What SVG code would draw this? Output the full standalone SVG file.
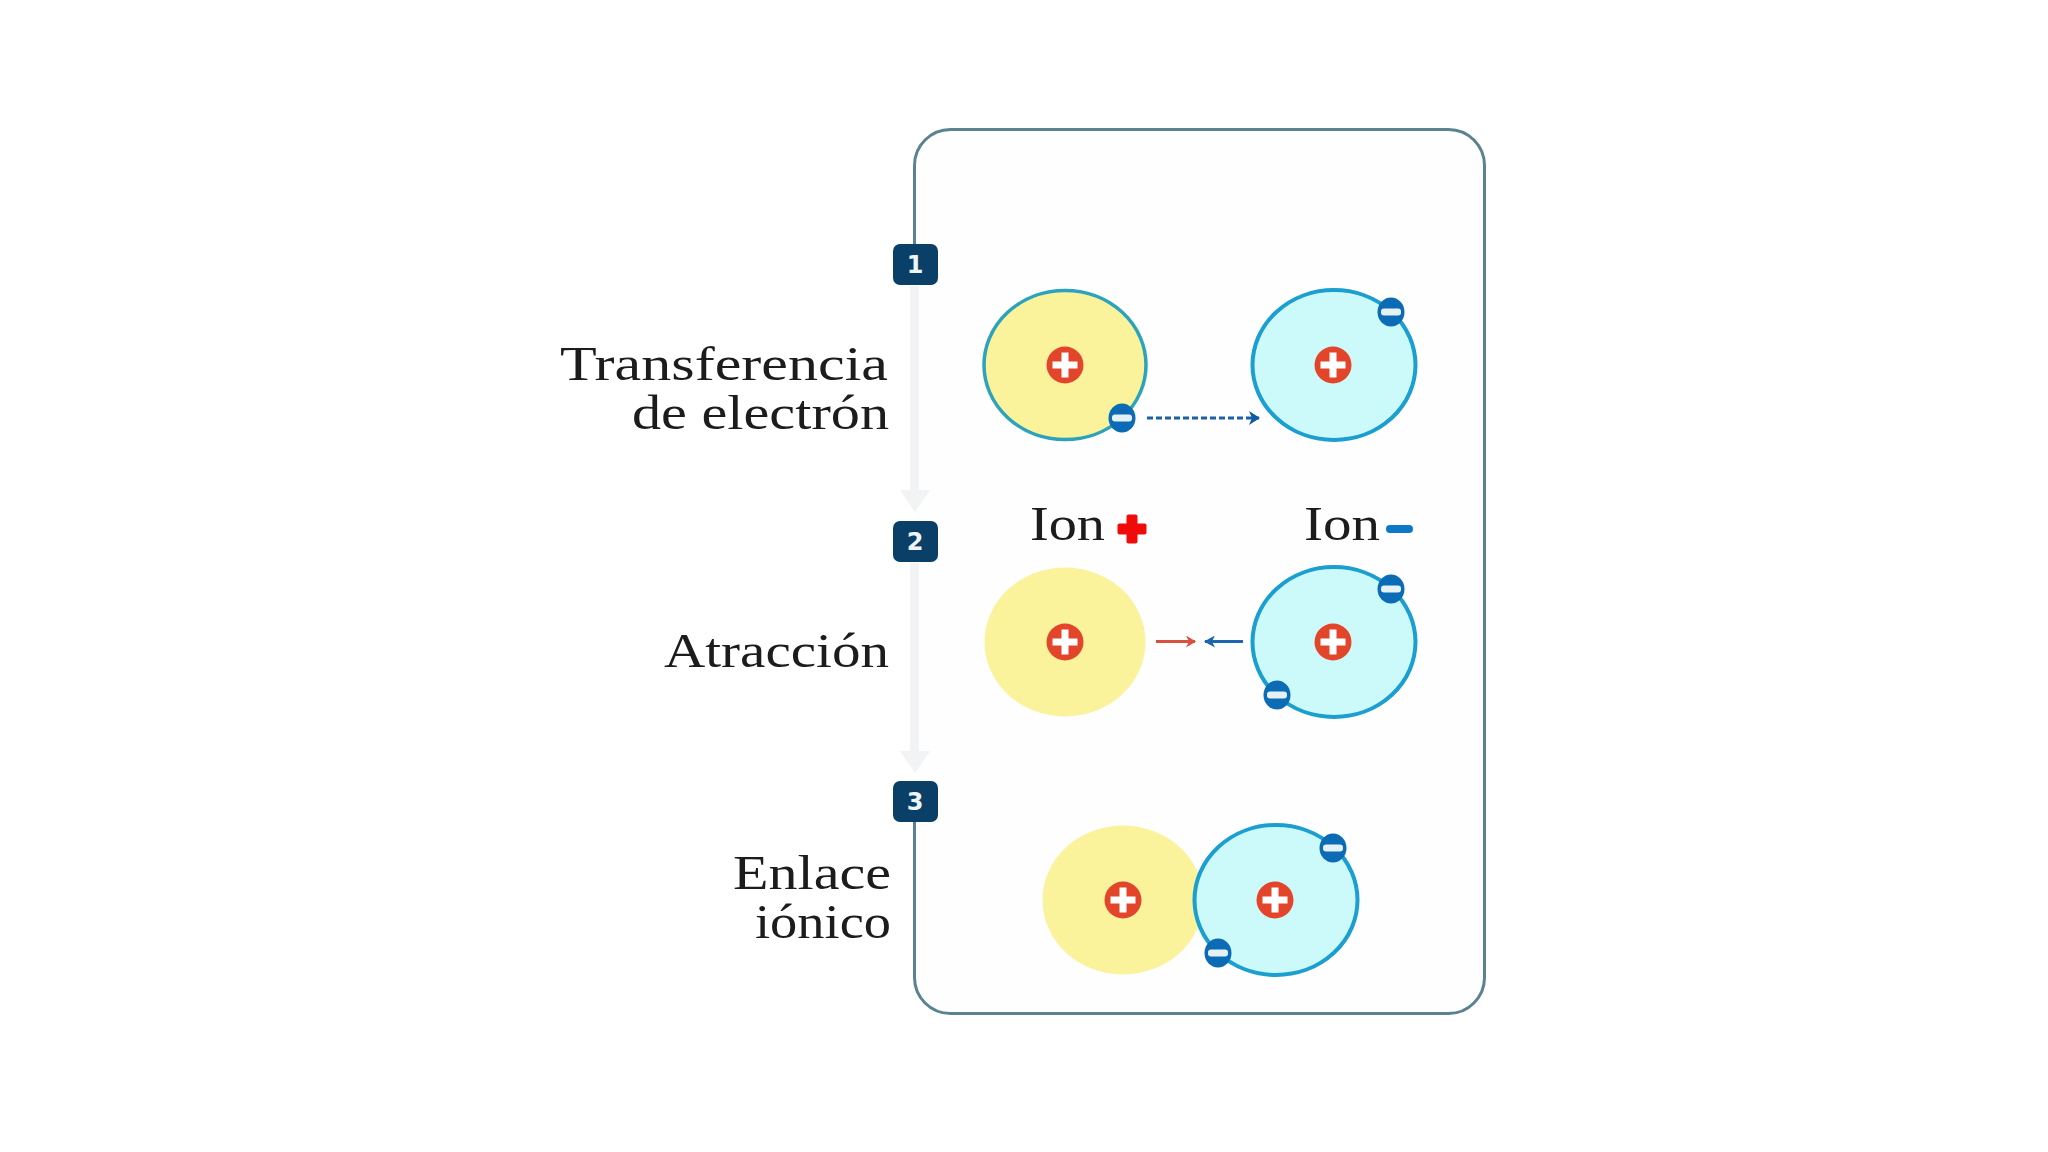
<svg xmlns="http://www.w3.org/2000/svg" width="2048" height="1152" viewBox="0 0 2048 1152">
<style>
.lbl{font-family:"Liberation Serif","Times New Roman",serif;font-size:49px;fill:#1c1c1c}
.num{font-family:"DejaVu Sans","Liberation Sans",sans-serif;font-size:24px;font-weight:700;fill:#eef5f8;text-anchor:middle}
.y{fill:#fbf29c}
.ys{stroke:#2ba3bd;stroke-width:3.5}
.b{fill:#ccfafb;stroke:#1a9fd0;stroke-width:4}
.bar{fill:#f2f3f4}
</style>
<defs>
<g id="plus"><circle r="18.5" fill="#e2452a"/><path d="M-3.5-12.5h7v9h9v7h-9v9h-7v-9h-9v-7h9z" fill="#fff"/></g>
<g id="minus"><ellipse rx="13.5" ry="14.5" fill="#0b6bb5"/><rect x="-10" y="-3.5" width="20" height="7" rx="3" fill="#e4f1f7"/></g>
<marker id="ab" markerUnits="userSpaceOnUse" markerWidth="12" markerHeight="12" refX="10" refY="6" orient="auto"><path d="M0 0L11 6L0 12L3 6z" fill="#1b66ae"/></marker>
<marker id="ar" markerUnits="userSpaceOnUse" markerWidth="12" markerHeight="12" refX="10" refY="6" orient="auto"><path d="M1 0L11 6L1 12L4 6z" fill="#d9503f"/></marker>
<marker id="ad" markerUnits="userSpaceOnUse" markerWidth="12" markerHeight="14" refX="10" refY="7" orient="auto"><path d="M0 0L11 7L0 14L3 7z" fill="#0e5aa5"/></marker>
</defs>
<rect width="2048" height="1152" fill="#fff"/>
<g id="frame"><rect x="914.5" y="129.5" width="570" height="884" rx="36" fill="#fefefe"/><path d="M914.500 250V165.500a36 36 0 0 1 36-36H1448.500a36 36 0 0 1 36 36V977.500a36 36 0 0 1-36 36H950.500a36 36 0 0 1-36-36V815" fill="none" stroke="#5a8290" stroke-width="3"/></g>
<g id="connectors">
<path class="bar" d="M910 286h9v204l11 0-15 22-15-22 10 0z"/>
<path class="bar" d="M910 563h9v188l11 0-15 22-15-22 10 0z"/>
<path d="M1147 418H1259" fill="none" stroke="#1a5fa8" stroke-width="3" stroke-dasharray="6 3" marker-end="url(#ad)"/>
<path d="M1156 641.5H1195" fill="none" stroke="#d9503f" stroke-width="3" marker-end="url(#ar)"/>
<path d="M1243 641.5H1205" fill="none" stroke="#1b66ae" stroke-width="3" marker-end="url(#ab)"/>
</g>
<g id="step1"><rect x="893" y="244" width="45" height="41" rx="7" fill="#0a3f68"/><text class="num" x="915" y="273">1</text></g>
<g id="step2"><rect x="893" y="521" width="45" height="41" rx="7" fill="#0a3f68"/><text class="num" x="915" y="550">2</text></g>
<g id="step3"><rect x="893" y="781" width="45" height="41" rx="7" fill="#0a3f68"/><text class="num" x="915" y="810">3</text></g>
<g id="label-transferencia"><text class="lbl" x="560" y="380" textLength="328" lengthAdjust="spacingAndGlyphs">Transferencia</text><text class="lbl" x="632" y="429" textLength="257" lengthAdjust="spacingAndGlyphs">de electrón</text></g>
<g id="label-atraccion"><text class="lbl" x="664" y="667" textLength="225" lengthAdjust="spacingAndGlyphs">Atracción</text></g>
<g id="label-enlace"><text class="lbl" x="733" y="889" textLength="158" lengthAdjust="spacingAndGlyphs">Enlace</text><text class="lbl" x="755" y="938" textLength="136" lengthAdjust="spacingAndGlyphs">iónico</text></g>
<g id="atom-a1"><ellipse class="y ys" cx="1065" cy="365" rx="81" ry="74.5"/><use href="#plus" x="1065" y="365"/><use href="#minus" x="1122" y="418"/></g>
<g id="atom-b1"><ellipse class="b" cx="1334" cy="365" rx="81.5" ry="75"/><use href="#plus" x="1333" y="365"/><use href="#minus" x="1391" y="312"/></g>
<g id="ion-plus"><text class="lbl" x="1030" y="540" textLength="75" lengthAdjust="spacingAndGlyphs">Ion</text><path d="M1128.500 516.500h7v9h9v7h-9v9h-7v-9h-9v-7h9z" fill="#f00a0a" stroke="#f00a0a" stroke-width="4" stroke-linejoin="round"/></g>
<g id="ion-minus"><text class="lbl" x="1304" y="540" textLength="76" lengthAdjust="spacingAndGlyphs">Ion</text><rect x="1386" y="525" width="27" height="8" rx="4" fill="#0e78c8"/></g>
<g id="atom-a2"><ellipse class="y" cx="1065" cy="642" rx="80.500" ry="74.500"/><use href="#plus" x="1065" y="642"/></g>
<g id="atom-b2"><ellipse class="b" cx="1334" cy="642" rx="81.5" ry="75"/><use href="#plus" x="1333" y="642"/><use href="#minus" x="1391" y="589"/><use href="#minus" x="1277" y="695"/></g>
<g id="atom-a3"><ellipse class="y" cx="1123" cy="900" rx="80.500" ry="74.500"/><use href="#plus" x="1123" y="900"/></g>
<g id="atom-b3"><ellipse class="b" cx="1276" cy="900" rx="81.5" ry="75"/><use href="#plus" x="1275" y="900"/><use href="#minus" x="1333" y="848"/><use href="#minus" x="1218" y="953"/></g>
</svg>
